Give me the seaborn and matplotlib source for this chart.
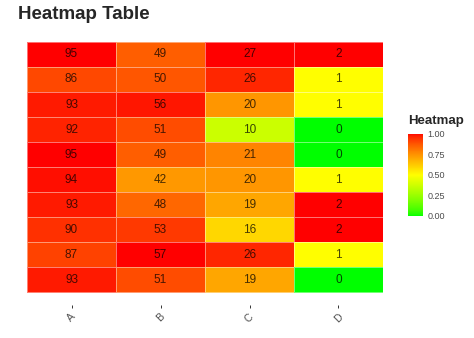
import numpy as np
import pandas as pd
import matplotlib
matplotlib.use("Agg")
import matplotlib.pyplot as plt
from matplotlib.colors import ListedColormap, to_rgb
import seaborn as sns

columns = ["A", "B", "C", "D"]
col_a = [95, 86, 93, 92, 95, 94, 93, 90, 87, 93]
col_b = [49, 50, 56, 51, 49, 42, 48, 53, 57, 51]
col_c = [27, 26, 20, 10, 21, 20, 19, 16, 26, 19]
col_d = [2, 1, 1, 0, 0, 1, 2, 2, 1, 0]
colorbar_ticks = [0.00, 0.25, 0.50, 0.75, 1.00]
gradient_colors = ["#00FF00", "#FFFF00", "#FF0000"]

values = pd.DataFrame({"A": col_a, "B": col_b, "C": col_c, "D": col_d})[columns]
# each column scaled by its own maximum
scaled = values / values.max(axis=0)


# --- gradient: mix of CIE Lab and plain RGB interpolation ---
def _srgb_to_lab(rgb):
    c = np.asarray(rgb, dtype=float)
    lin = np.where(c <= 0.04045, c / 12.92, ((c + 0.055) / 1.055) ** 2.4)
    m = np.array([[0.4124564, 0.3575761, 0.1804375],
                  [0.2126729, 0.7151522, 0.0721750],
                  [0.0193339, 0.1191920, 0.9503041]])
    xyz = m @ lin / np.array([0.95047, 1.0, 1.08883])
    f = np.where(xyz > 0.008856, np.cbrt(xyz), 7.787 * xyz + 16 / 116)
    return np.array([116 * f[1] - 16, 500 * (f[0] - f[1]), 200 * (f[1] - f[2])])


def _lab_to_srgb(lab):
    L, a, b = lab
    fy = (L + 16) / 116
    fx = fy + a / 500
    fz = fy - b / 200
    f = np.array([fx, fy, fz])
    xyz = np.where(f ** 3 > 0.008856, f ** 3, (f - 16 / 116) / 7.787)
    xyz = xyz * np.array([0.95047, 1.0, 1.08883])
    minv = np.array([[3.2404542, -1.5371385, -0.4985314],
                     [-0.9692660, 1.8760108, 0.0415560],
                     [0.0556434, -0.2040259, 1.0572252]])
    lin = np.clip(minv @ xyz, 0, 1)
    c = np.where(lin <= 0.0031308, 12.92 * lin, 1.055 * lin ** (1 / 2.4) - 0.055)
    return np.clip(c, 0, 1)


rgbs = [np.array(to_rgb(c)) for c in gradient_colors]
labs = [_srgb_to_lab(c) for c in rgbs]
stops = np.linspace(0, 1, len(labs))
lab_weight = 0.55
samples = []
for t in np.linspace(0, 1, 256):
    i = min(np.searchsorted(stops, t, side="right") - 1, len(labs) - 2)
    u = (t - stops[i]) / (stops[i + 1] - stops[i])
    via_lab = _lab_to_srgb(labs[i] * (1 - u) + labs[i + 1] * u)
    via_rgb = rgbs[i] * (1 - u) + rgbs[i + 1] * u
    samples.append(np.clip(lab_weight * via_lab + (1 - lab_weight) * via_rgb, 0, 1))
cmap = ListedColormap(samples)

sns.set_theme(style="white")
plt.rcParams["font.family"] = ["Liberation Sans", "DejaVu Sans"]

fig = plt.figure(figsize=(4.74, 3.38), dpi=100)
ax = fig.add_axes([0.057, 0.098, 0.751, 0.778])
cax = fig.add_axes([0.861, 0.361, 0.032, 0.243])

sns.heatmap(scaled, ax=ax, cbar_ax=cax, cmap=cmap, vmin=0, vmax=1,
            annot=values, fmt="d", linewidths=0.6, linecolor=(1, 1, 1, 0.45),
            annot_kws={"fontsize": 8.5, "color": (0, 0, 0, 0.72)},
            cbar_kws={"ticks": colorbar_ticks})

# small gap between the last row of tiles and the axis ticks
ax.set_ylim(len(col_a) + 0.5, 0)
ax.set_yticks([])
ax.set_xticks(np.arange(len(columns)) + 0.5)
ax.set_xticklabels(columns, rotation=45, ha="center", va="top",
                   fontsize=7.5, color="#4d4d4d")
ax.tick_params(axis="x", length=2, width=0.7, color="#333333", pad=3, bottom=True)
ax.set_xlabel("")
ax.set_ylabel("")

cbar = ax.collections[0].colorbar
cbar.outline.set_visible(False)
cbar.set_ticklabels([f"{t:.2f}" for t in colorbar_ticks])
cax.tick_params(axis="y", length=3, width=0.6, color="white", labelsize=6.5,
                labelcolor="#4d4d4d", pad=3, right=True, direction="in")
fig.text(0.861, 0.625, "Heatmap", fontsize=9.5, fontweight="bold",
         ha="left", va="bottom")

fig.text(0.038, 0.958, "Heatmap Table", fontsize=13.5, fontweight="bold",
         ha="left", va="center")

fig.savefig("out.png", dpi=100)
